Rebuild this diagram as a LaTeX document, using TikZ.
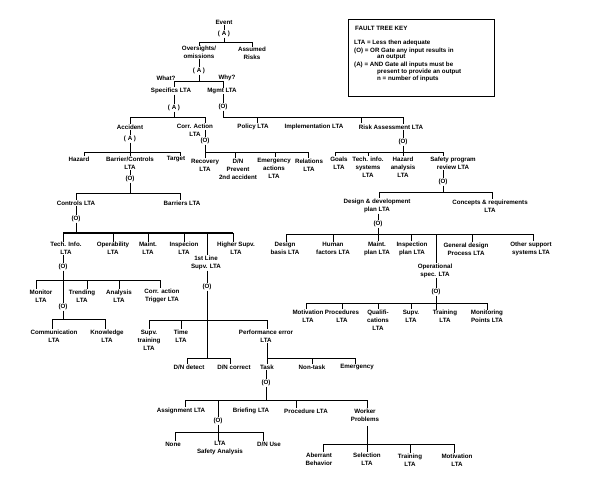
\documentclass[tikz,border=0pt]{standalone}
\usepackage{fontspec}
\setmainfont{Liberation Sans}
\newcommand\ft{\fontsize{6.2}{8}\selectfont\bfseries}
\begin{document}
\begin{tikzpicture}[x=1pt,y=-1pt,
  lbl/.style={font=\ft,align=center,inner sep=0.5pt},
  gate/.style={font=\ft,inner sep=0.5pt},
  keyt/.style={font=\ft,anchor=west,inner sep=0pt},
  w/.style={line width=0.6pt},
  thickbar/.style={line width=1.3pt}]
\useasboundingbox[fill=white] (0,0) rectangle (590,499);

% ---------- top ----------
\node[lbl] (ev) at (224,22) {Event};
\node[gate] (gA1) at (224,34) {( A )};
\node[lbl] (over) at (199,52.5) {Oversights/\\omissions};
\node[lbl] (risk) at (252,53.5) {Assumed\\Risks};
\node[gate] (gA2) at (199,71) {( A )};
\node[lbl] (what) at (166,78) {What?};
\node[lbl] (why) at (227,78) {Why?};
\node[lbl] (spec) at (171,91) {Specifics LTA};
\node[lbl] (mgmt) at (222,91) {Mgmt LTA};
\node[gate] (gA3) at (174,108) {( A )};
\node[gate] (gO1) at (223,107) {(O)};

\draw[w] (ev.south) -- (gA1.north);
\coordinate (b1l) at (199,42); \coordinate (b1r) at (252,42);
\draw[w] (b1l) -- (b1r);
\draw[w] (gA1.south) -- (gA1.south |- b1l);
\draw[w] (over.north) -- (over.north |- b1l);
\draw[w] (risk.north) -- (risk.north |- b1r);
\draw[w] (over.south) -- (gA2.north);
\coordinate (b2l) at (174,81); \coordinate (b2r) at (223,81);
\draw[w] (b2l) -- (b2r);
\draw[w] (gA2.south) -- (gA2.south |- b2l);
\draw[w] (b2l) -- (b2l |- spec.north);
\draw[w] (b2r) -- (b2r |- mgmt.north);
\draw[w] (gA3.north |- spec.south) -- (gA3.north);
\draw[w] (gO1.north |- mgmt.south) -- (gO1.north);

% ---------- key ----------
\node[draw,w,minimum width=146pt,minimum height=77pt,inner sep=0pt] (key) at (421,57.5) {};
\node[keyt] (k1) at (355,28) {FAULT TREE KEY};
\node[keyt] (k2) at (354,43) {LTA = Less then adequate};
\node[keyt] (k3) at (354,51) {(O) = OR Gate any input results in};
\node[keyt] (k4) at (377,57.5) {an output};
\node[keyt] (k5) at (354,65) {(A) = AND Gate all inputs must be};
\node[keyt] (k6) at (377,72) {present to provide an output};
\node[keyt] (k7) at (377,79) {n = number of inputs};

% ---------- accident / corr action ----------
\node[lbl] (acc) at (130,127) {Accident};
\node[lbl] (corr) at (195,130) {Corr. Action\\LTA};
\coordinate (b3l) at (130,117); \coordinate (b3r) at (205,117);
\draw[w] (b3l) -- (b3r);
\draw[w] (gA3.south) -- (gA3.south |- b3l);
\draw[w] (b3l) -- (b3l |- acc.north);
\draw[w] (b3r) -- (b3r |- corr.north);

\node[gate] (gOc) at (205,141) {(O)};
\draw[w] (gOc.north) -- ++(0,-7);
\coordinate (b5cl) at (205,152); \coordinate (b5cr) at (308,152);
\draw[w] (b5cl) -- (b5cr);
\draw[w] (gOc.south) -- (gOc.south |- b5cl);
\node[lbl] (recov) at (205,165) {Recovery\\LTA};
\node[lbl] (dnprev) at (238,169) {D/N\\Prevent\\2nd accident};
\node[lbl] (emact) at (274,168) {Emergency\\actions\\LTA};
\node[lbl] (relat) at (309,165) {Relations\\LTA};
\draw[w] (recov.north) -- (recov.north |- b5cl);
\draw[w] ([xshift=-3pt]dnprev.north) -- ([xshift=-3pt]dnprev.north |- b5cl);
\draw[w] ([xshift=1pt]emact.north) -- ([xshift=1pt]emact.north |- b5cl);
\draw[w] ([xshift=-1pt]relat.north) -- ([xshift=-1pt]relat.north |- b5cr);

% ---------- mgmt branch ----------
\node[lbl] (policy) at (253,127) {Policy LTA};
\node[lbl] (impl) at (314,127) {Implementation LTA};
\node[lbl] (ra) at (391,127) {Risk Assessment LTA};
\coordinate (b4l) at (223,117); \coordinate (b4i) at (361,117); \coordinate (b4r) at (403,117);
\draw[w] (b4l) -- (b4r);
\draw[w] (gO1.south) -- (gO1.south |- b4l);
\draw[w] ([xshift=4pt]policy.north) -- ([xshift=4pt]policy.north |- b4l);
\draw[w] (b4i) -- (b4i |- impl.north);
\draw[w] (b4r) -- (b4r |- ra.north);

\node[gate] (gO2) at (403,142) {(O)};
\draw[w] (ra.south -| gO2) -- (gO2.north);
\coordinate (b5l) at (335,152); \coordinate (b5r) at (443,152);
\draw[w] (b5l) -- (b5r);
\draw[w] (gO2.south) -- (gO2.south |- b5l);
\node[lbl] (goals) at (339,163) {Goals\\LTA};
\node[lbl] (techis) at (368,167) {Tech. info.\\systems\\LTA};
\node[lbl] (hazard) at (403,167) {Hazard\\analysis\\LTA};
\node[lbl] (safety) at (453,163) {Safety program\\review LTA};
\draw[w] (b5l) -- (b5l |- goals.north);
\draw[w] (techis.north) -- (techis.north |- b5l);
\draw[w] (hazard.north) -- (hazard.north |- b5l);
\draw[w] (b5r) -- (b5r |- safety.north);

\node[gate] (gO3) at (443,182) {(O)};
\draw[w] (safety.south -| gO3) -- (gO3.north);
\coordinate (b6l) at (379,192); \coordinate (b6r) at (492,192);
\draw[w] (b6l) -- (b6r);
\draw[w] (gO3.south) -- (gO3.south |- b6l);
\node[lbl] (design) at (377,206) {Design \& development\\plan LTA};
\node[lbl] (concepts) at (490,206) {Concepts \& requirements\\LTA};
\draw[w] (b6l) -- (b6l |- design.north);
\draw[w] (b6r) -- (b6r |- concepts.north);

\node[gate] (gO4) at (378,224) {(O)};
\draw[w] (design.south -| gO4) -- (gO4.north);
\coordinate (b7l) at (286,234); \coordinate (b7r) at (533,234);
\draw[w] (b7l) -- (b7r);
\draw[w] (gO4.south) -- (gO4.south |- b7l);
\node[lbl] (dbasis) at (285,248.5) {Design\\basis LTA};
\node[lbl] (human) at (333,248.5) {Human\\factors LTA};
\node[lbl] (maint) at (377,249) {Maint.\\plan LTA};
\node[lbl] (insp) at (412,249) {Inspection\\plan LTA};
\node[lbl] (oper) at (435,270.5) {Operational\\spec. LTA};
\node[lbl] (gdesign) at (466,249) {General design\\Process LTA};
\node[lbl] (other) at (531,249) {Other support\\systems LTA};
\draw[w] (b7l) -- (b7l |- dbasis.north);
\draw[w] (human.north) -- (human.north |- b7l);
\draw[w] ([xshift=1pt]maint.north) -- ([xshift=1pt]maint.north |- b7l);
\draw[w] ([xshift=-1pt]insp.north) -- ([xshift=-1pt]insp.north |- b7l);
\draw[w] ([xshift=1pt]oper.north) -- ([xshift=1pt]oper.north |- b7l);
\draw[w] ([xshift=6pt]gdesign.north) -- ([xshift=6pt]gdesign.north |- b7l);
\draw[w] (b7r) -- (b7r |- other.north);

\node[gate] (gO5) at (436,292) {(O)};
\draw[w] (oper.south -| gO5) -- (gO5.north);
\coordinate (b8l) at (306,303); \coordinate (b8r) at (487,303);
\draw[w] (b8l) -- (b8r);
\draw[w] (gO5.south) -- (gO5.south |- b8l);
\node[lbl] (motiv) at (308,316) {Motivation\\LTA};
\node[lbl] (proc2) at (342,316) {Procedures\\LTA};
\node[lbl] (qual) at (378,320) {Qualifi-\\cations\\LTA};
\node[lbl] (supv2) at (411,316) {Supv.\\LTA};
\node[lbl] (train) at (445,316.5) {Training\\LTA};
\node[lbl] (monit) at (487,316.5) {Monitoring\\Points LTA};
\draw[w] (b8l) -- (b8l |- motiv.north);
\draw[w] (proc2.north) -- (proc2.north |- b8l);
\draw[w] (qual.north) -- (qual.north |- b8l);
\draw[w] (supv2.north) -- (supv2.north |- b8l);
\draw[w] (gO5.south |- train.north) -- (gO5.south |- b8l);
\draw[w] (b8r) -- (b8r |- monit.north);

% ---------- accident subtree ----------
\node[gate] (gA4) at (130,139) {( A )};
\draw[w] (acc.south) -- (gA4.north);
\coordinate (b9l) at (84,152); \coordinate (b9r) at (180,152);
\draw[w] (b9l) -- (b9r);
\draw[w] (gA4.south) -- (gA4.south |- b9l);
\node[lbl] (hazard2) at (79,159) {Hazard};
\node[lbl] (barrier) at (130,163) {Barrier/Controls\\LTA};
\node[lbl] (target) at (176,159) {Target};
\draw[w] (b9l) -- (b9l |- hazard2.north);
\draw[w] (barrier.north) -- (barrier.north |- b9l);
\draw[w] (b9r) -- (b9r |- target.north);

\node[gate] (gO6) at (130,179) {(O)};
\draw[w] (barrier.south) -- (gO6.north);
\coordinate (b10l) at (76,193); \coordinate (b10r) at (180,193);
\draw[w] (b10l) -- (b10r);
\draw[w] (gO6.south) -- (gO6.south |- b10l);
\node[lbl] (controls) at (76,203) {Controls LTA};
\node[lbl] (barriers) at (182,203) {Barriers LTA};
\draw[w] (b10l) -- (b10l |- controls.north);
\draw[w] (b10r) -- (b10r |- barriers.north);

\node[gate] (gO7) at (76,219) {(O)};
\draw[w] (controls.south) -- (gO7.north);
\coordinate (b11l) at (63,233); \coordinate (b11r) at (233,233);
\draw[thickbar] (b11l) -- (b11r);
\draw[w] (gO7.south) -- (gO7.south |- b11l);
\node[lbl] (techinfo) at (66,248.5) {Tech. Info.\\LTA};
\node[lbl] (operab) at (113,248.5) {Operability\\LTA};
\node[lbl] (maintL) at (148,248.5) {Maint.\\LTA};
\node[lbl] (inspL) at (184,248.5) {Inspecion\\LTA};
\node[lbl] (first) at (206,263) {1st Line\\Supv. LTA};
\node[lbl] (higher) at (236,248.5) {Higher Supv.\\LTA};
\draw[w] (b11l) -- (b11l |- techinfo.north);
\draw[w] (operab.north) -- (operab.north |- b11l);
\draw[w] (maintL.north) -- (maintL.north |- b11l);
\draw[w] (inspL.north) -- (inspL.north |- b11l);
\coordinate (b11f) at (207,233);
\draw[w] (b11f) -- (b11f |- first.north);
\draw[w] (b11r) -- (b11r |- higher.north);

% tech info subtree
\node[gate] (gO8) at (63,267) {(O)};
\draw[w] (techinfo.south -| gO8) -- (gO8.north);
\node[gate] (gO9) at (63,307) {(O)};
\draw[w] (gO8.south) -- (gO9.north);
\coordinate (b12l) at (36,280); \coordinate (b12r) at (160,280);
\draw[w] (b12l) -- (b12r);
\node[lbl] (monitor) at (41,296) {Monitor\\LTA};
\node[lbl] (trending) at (82,296) {Trending\\LTA};
\node[lbl] (analysis) at (119,296) {Analysis\\LTA};
\node[lbl] (corr2) at (162,296) {Corr. action\\Trigger LTA};
\draw[w] (b12l) -- (b12l |- monitor.north);
\draw[w] ([xshift=5pt]trending.north) -- ([xshift=5pt]trending.north |- b12l);
\draw[w] (analysis.north) -- (analysis.north |- b12l);
\draw[w] (b12r) -- (b12r |- corr2.north);
\coordinate (b13l) at (52,319); \coordinate (b13r) at (105,319);
\draw[w] (b13l) -- (b13r);
\draw[w] (gO9.south) -- (gO9.south |- b13l);
\node[lbl] (comm) at (54,336) {Communication\\LTA};
\node[lbl] (know) at (107,336) {Knowledge\\LTA};
\draw[w] (b13l) -- (b13l |- comm.north);
\draw[w] (b13r) -- (b13r |- know.north);

% 1st line supv subtree
\node[gate] (gO10) at (207,287) {(O)};
\draw[w] (first.south -| gO10) -- (gO10.north);
\coordinate (b14l) at (149,320); \coordinate (b14r) at (267,320);
\draw[w] (b14l) -- (b14r);
\node[lbl] (supvtr) at (149,340) {Supv.\\training\\LTA};
\node[lbl] (time) at (181,336) {Time\\LTA};
\node[lbl] (perf) at (266,336) {Performance error\\LTA};
\draw[w] (b14l) -- (b14l |- supvtr.north);
\draw[w] (time.north) -- (time.north |- b14l);
\draw[w] (b14r) -- (b14r |- perf.north);
\coordinate (b15m) at (207,358);
\coordinate (b15l) at (187,358); \coordinate (b15r) at (230,358);
\draw[w] (gO10.south) -- (b15m);
\draw[w] (b15l) -- (b15r);
\node[lbl] (dndet) at (189,367) {D/N detect};
\node[lbl] (dncor) at (234,367) {D/N correct};
\draw[w] (b15l) -- (b15l |- dndet.north);
\draw[w] (b15r) -- (b15r |- dncor.north);

\coordinate (b16l) at (267,358); \coordinate (b16r) at (355,358);
\draw[w] (perf.south -| b16l) -- (b16l) -- (b16r);
\node[lbl] (task) at (267,367) {Task};
\node[lbl] (nontask) at (312,367) {Non-task};
\node[lbl] (emerg) at (357,367) {Emergency};
\draw[w] (b16l) -- (b16l |- task.north);
\draw[w] (nontask.north) -- (nontask.north |- b16l);
\draw[w] (b16r) -- (b16r |- emerg.north);

\node[gate] (gO11) at (266,383) {(O)};
\draw[w] (task.south -| gO11) -- (gO11.north);
\coordinate (b17l) at (185,400); \coordinate (b17r) at (367,400);
\draw[w] (b17l) -- (b17r);
\draw[w] (gO11.south) -- (gO11.south |- b17l);
\node[lbl] (assign) at (181,411) {Assignment LTA};
\node[lbl] (brief) at (251,411) {Briefing LTA};
\node[lbl] (proc) at (306,411) {Procedure LTA};
\node[lbl] (worker) at (365,415) {Worker\\Problems};
\node[gate] (gO12) at (218,421) {(O)};
\draw[w] (b17l) -- (b17l |- assign.north);
\draw[w] (gO12.north) -- (gO12.north |- b17l);
\draw[w] ([xshift=-10pt]proc.north) -- ([xshift=-10pt]proc.north |- b17l);
\draw[w] (b17r) -- (b17r |- worker.north);

\coordinate (b18l) at (175,432); \coordinate (b18r) at (263,432);
\draw[w] (b18l) -- (b18r);
\draw[w] (gO12.south) -- (gO12.south |- b18l);
\node[lbl] (none) at (173,444) {None};
\node[lbl] (ltasa) at (220,448) {LTA\\Safety Analysis};
\node[lbl] (dnuse) at (269,444) {D/N Use};
\draw[w] (b18l) -- (b18l |- none.north);
\draw[w] (gO12.south |- ltasa.north) -- (gO12.south |- b18l);
\draw[w] (b18r) -- (b18r |- dnuse.north);

\coordinate (b19l) at (323,444); \coordinate (b19m) at (367,444); \coordinate (b19r) at (454,444);
\draw[w] ([yshift=-4pt]worker.south -| b19m) -- (b19m);
\draw[w] (b19l) -- (b19r);
\node[lbl] (aber) at (319,459) {Aberrant\\Behavior};
\node[lbl] (sel) at (367,459) {Selection\\LTA};
\node[lbl] (trainM) at (410,460) {Training\\LTA};
\node[lbl] (motM) at (457,460) {Motivation\\LTA};
\draw[w] (b19l) -- (b19l |- aber.north);
\draw[w] (sel.north) -- (sel.north |- b19l);
\draw[w] (trainM.north) -- (trainM.north |- b19l);
\draw[w] (b19r) -- (b19r |- motM.north);
\end{tikzpicture}
\end{document}
